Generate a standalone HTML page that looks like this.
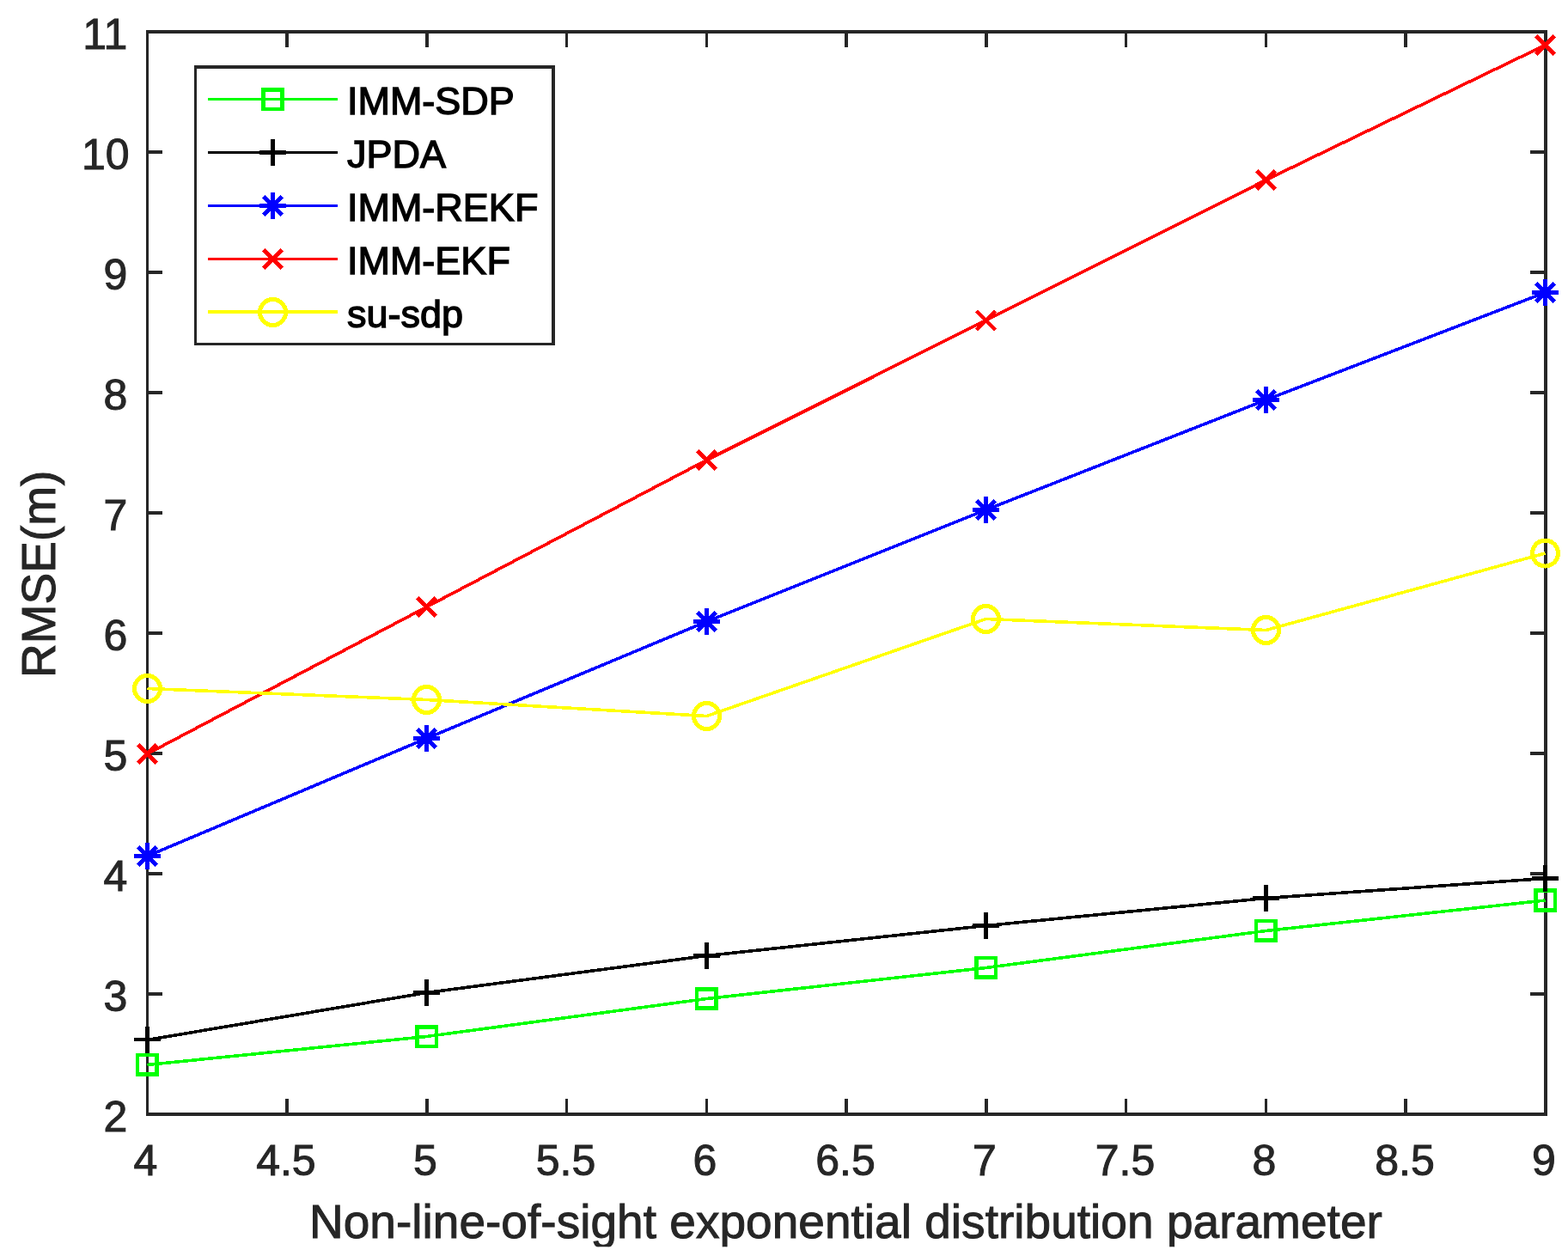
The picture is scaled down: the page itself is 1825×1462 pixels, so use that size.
<!DOCTYPE html>
<html lang="en"><head><meta charset="utf-8"><title>RMSE vs Non-line-of-sight exponential distribution parameter</title>
<style>
html,body{margin:0;padding:0;background:#fff;}
body{width:1825px;height:1462px;overflow:hidden;}
svg{display:block;}
text{font-family:"Liberation Sans",sans-serif;fill:#262626;}
.tk{font-size:50px;stroke:#262626;stroke-width:1px;}
.lb{font-size:55px;stroke:#262626;stroke-width:1px;}
.lg{font-size:45px;fill:#000;stroke:#000;stroke-width:1.4px;}
</style></head><body>
<svg width="1825" height="1462" viewBox="0 0 1825 1462">
<rect width="1825" height="1462" fill="#fff"/>
<g fill="#262626" shape-rendering="crispEdges">
<rect x="170" y="35" width="3" height="1264"/>
<rect x="1797" y="35" width="4" height="1264"/>
<rect x="170" y="35" width="1631" height="4"/>
<rect x="171" y="1295" width="1630" height="4"/>
<rect x="332" y="1279" width="4" height="16"/>
<rect x="332" y="39" width="4" height="16"/>
<rect x="495" y="1279" width="4" height="16"/>
<rect x="495" y="39" width="4" height="16"/>
<rect x="658" y="1279" width="3" height="16"/>
<rect x="658" y="39" width="3" height="16"/>
<rect x="821" y="1279" width="3" height="16"/>
<rect x="821" y="39" width="3" height="16"/>
<rect x="983" y="1279" width="4" height="16"/>
<rect x="983" y="39" width="4" height="16"/>
<rect x="1146" y="1279" width="4" height="16"/>
<rect x="1146" y="39" width="4" height="16"/>
<rect x="1309" y="1279" width="3" height="16"/>
<rect x="1309" y="39" width="3" height="16"/>
<rect x="1472" y="1279" width="3" height="16"/>
<rect x="1472" y="39" width="3" height="16"/>
<rect x="1634" y="1279" width="4" height="16"/>
<rect x="1634" y="39" width="4" height="16"/>
<rect x="173" y="1155" width="16" height="4"/>
<rect x="1781" y="1155" width="16" height="4"/>
<rect x="173" y="1015" width="16" height="4"/>
<rect x="1781" y="1015" width="16" height="4"/>
<rect x="173" y="875" width="16" height="4"/>
<rect x="1781" y="875" width="16" height="4"/>
<rect x="173" y="735" width="16" height="4"/>
<rect x="1781" y="735" width="16" height="4"/>
<rect x="173" y="595" width="16" height="4"/>
<rect x="1781" y="595" width="16" height="4"/>
<rect x="173" y="455" width="16" height="4"/>
<rect x="1781" y="455" width="16" height="4"/>
<rect x="173" y="315" width="16" height="4"/>
<rect x="1781" y="315" width="16" height="4"/>
<rect x="173" y="175" width="16" height="4"/>
<rect x="1781" y="175" width="16" height="4"/>
</g>
<text class="tk" x="169.5" y="1368.3" text-anchor="middle">4</text>
<text class="tk" x="332.9" y="1368.3" text-anchor="middle">4.5</text>
<text class="tk" x="495.0" y="1368.3" text-anchor="middle">5</text>
<text class="tk" x="658.5" y="1368.3" text-anchor="middle">5.5</text>
<text class="tk" x="820.5" y="1368.3" text-anchor="middle">6</text>
<text class="tk" x="984.0" y="1368.3" text-anchor="middle">6.5</text>
<text class="tk" x="1146.0" y="1368.3" text-anchor="middle">7</text>
<text class="tk" x="1309.5" y="1368.3" text-anchor="middle">7.5</text>
<text class="tk" x="1471.5" y="1368.3" text-anchor="middle">8</text>
<text class="tk" x="1635.0" y="1368.3" text-anchor="middle">8.5</text>
<text class="tk" x="1797.0" y="1368.3" text-anchor="middle">9</text>
<text class="tk" x="148.2" y="1316.5" text-anchor="end">2</text>
<text class="tk" x="148.2" y="1176.5" text-anchor="end">3</text>
<text class="tk" x="148.2" y="1036.5" text-anchor="end">4</text>
<text class="tk" x="148.2" y="896.5" text-anchor="end">5</text>
<text class="tk" x="148.2" y="756.5" text-anchor="end">6</text>
<text class="tk" x="148.2" y="616.5" text-anchor="end">7</text>
<text class="tk" x="148.2" y="476.5" text-anchor="end">8</text>
<text class="tk" x="148.2" y="336.5" text-anchor="end">9</text>
<text class="tk" x="150.7" y="196.5" text-anchor="end">10</text>
<text class="tk" x="148.2" y="56.5" text-anchor="end">11</text>
<defs><clipPath id="cx"><rect x="300" y="1380" width="1400" height="71.2"/></clipPath><clipPath id="cy"><rect x="0" y="400" width="75.3" height="500"/></clipPath></defs>
<g clip-path="url(#cx)"><text class="lb" x="984.4" y="1440.6" text-anchor="middle" letter-spacing="0.03">Non-line-of-sight exponential distribution parameter</text></g>
<g clip-path="url(#cy)"><text class="lb" transform="translate(63.6 668.3) rotate(-90)" text-anchor="middle">RMSE(m)</text></g>
<g shape-rendering="crispEdges">
<polyline points="171.5,1239.5 496.5,1206.5 822.5,1162.5 1147.5,1126.5 1473.5,1083.5 1798.5,1048" fill="none" stroke="#00ff00" stroke-width="3.6" stroke-linejoin="round"/>
<path fill-rule="evenodd" fill="#00ff00" d="M158 1226H185V1253H158zM162 1230V1248H180V1230z"/>
<path fill-rule="evenodd" fill="#00ff00" d="M483 1193H510V1220H483zM488 1198V1216H506V1198z"/>
<path fill-rule="evenodd" fill="#00ff00" d="M809 1149H836V1176H809zM813 1154V1171H831V1154z"/>
<path fill-rule="evenodd" fill="#00ff00" d="M1134 1113H1161V1140H1134zM1139 1117V1135H1157V1117z"/>
<path fill-rule="evenodd" fill="#00ff00" d="M1460 1070H1487V1097H1460zM1464 1074V1092H1482V1074z"/>
<path fill-rule="evenodd" fill="#00ff00" d="M1785 1034H1812V1062H1785zM1790 1039V1057H1808V1039z"/>
<polyline points="171.5,1210.5 496.5,1155.5 822.5,1112.5 1147.5,1077.5 1473.5,1045.5 1798.5,1022.5" fill="none" stroke="#000000" stroke-width="3.6" stroke-linejoin="round"/>
<path fill="#000000" d="M156 1208h31v4h-31zM169 1195h5v31h-5z"/>
<path fill="#000000" d="M481 1153h31v5h-31zM494 1140h5v31h-5z"/>
<path fill="#000000" d="M807 1110h31v5h-31zM820 1097h5v31h-5z"/>
<path fill="#000000" d="M1132 1075h31v5h-31zM1145 1062h5v31h-5z"/>
<path fill="#000000" d="M1458 1043h31v5h-31zM1471 1030h5v31h-5z"/>
<path fill="#000000" d="M1783 1020h31v5h-31zM1796 1007h5v31h-5z"/>
<polyline points="171.5,996.5 496.5,859.5 822.5,723.5 1147.5,593.5 1473.5,465.5 1798.5,340.5" fill="none" stroke="#0000ff" stroke-width="3.6" stroke-linejoin="round"/>
<path fill="#0000ff" d="M156 994h31v5h-31zM169 981h5v31h-5z"/><path d="M160.54 985.54L182.46 1007.46M160.54 1007.46L182.46 985.54" fill="none" stroke="#0000ff" stroke-width="4.8"/>
<path fill="#0000ff" d="M481 857h31v5h-31zM494 844h5v31h-5z"/><path d="M485.54 848.54L507.46 870.46M485.54 870.46L507.46 848.54" fill="none" stroke="#0000ff" stroke-width="4.8"/>
<path fill="#0000ff" d="M807 721h31v5h-31zM820 708h5v31h-5z"/><path d="M811.54 712.54L833.46 734.46M811.54 734.46L833.46 712.54" fill="none" stroke="#0000ff" stroke-width="4.8"/>
<path fill="#0000ff" d="M1132 591h31v5h-31zM1145 578h5v31h-5z"/><path d="M1136.54 582.54L1158.46 604.46M1136.54 604.46L1158.46 582.54" fill="none" stroke="#0000ff" stroke-width="4.8"/>
<path fill="#0000ff" d="M1458 463h31v5h-31zM1471 450h5v31h-5z"/><path d="M1462.54 454.54L1484.46 476.46M1462.54 476.46L1484.46 454.54" fill="none" stroke="#0000ff" stroke-width="4.8"/>
<path fill="#0000ff" d="M1783 338h31v5h-31zM1796 325h5v31h-5z"/><path d="M1787.54 329.54L1809.46 351.46M1787.54 351.46L1809.46 329.54" fill="none" stroke="#0000ff" stroke-width="4.8"/>
<polyline points="171.5,877.5 496.5,706.5 822.5,535.5 1147.5,373 1473.5,209.5 1798.5,52.5" fill="none" stroke="#ff0000" stroke-width="3.6" stroke-linejoin="round"/>
<path d="M160.54 866.54L182.46 888.46M160.54 888.46L182.46 866.54" fill="none" stroke="#ff0000" stroke-width="4.8"/>
<path d="M485.54 695.54L507.46 717.46M485.54 717.46L507.46 695.54" fill="none" stroke="#ff0000" stroke-width="4.8"/>
<path d="M811.54 524.54L833.46 546.46M811.54 546.46L833.46 524.54" fill="none" stroke="#ff0000" stroke-width="4.8"/>
<path d="M1136.54 362.04L1158.46 383.96M1136.54 383.96L1158.46 362.04" fill="none" stroke="#ff0000" stroke-width="4.8"/>
<path d="M1462.54 198.54L1484.46 220.46M1462.54 220.46L1484.46 198.54" fill="none" stroke="#ff0000" stroke-width="4.8"/>
<path d="M1787.54 41.54L1809.46 63.46M1787.54 63.46L1809.46 41.54" fill="none" stroke="#ff0000" stroke-width="4.8"/>
<polyline points="171.5,801.5 496.5,814.5 822.5,833.5 1147.5,720.5 1473.5,733.5 1798.5,644" fill="none" stroke="#ffff00" stroke-width="3.6" stroke-linejoin="round"/>
<circle cx="171.5" cy="801.5" r="15" fill="none" stroke="#ffff00" stroke-width="5"/>
<circle cx="496.5" cy="814.5" r="15" fill="none" stroke="#ffff00" stroke-width="5"/>
<circle cx="822.5" cy="833.5" r="15" fill="none" stroke="#ffff00" stroke-width="5"/>
<circle cx="1147.5" cy="720.5" r="15" fill="none" stroke="#ffff00" stroke-width="5"/>
<circle cx="1473.5" cy="733.5" r="15" fill="none" stroke="#ffff00" stroke-width="5"/>
<circle cx="1798.5" cy="644" r="15" fill="none" stroke="#ffff00" stroke-width="5"/>
</g>
<g shape-rendering="crispEdges">
<rect x="226" y="76" width="420" height="326" fill="#262626"/>
<rect x="229" y="80" width="413" height="319" fill="#fff"/>
<rect x="242" y="114" width="151" height="3" fill="#00ff00"/>
<path fill-rule="evenodd" fill="#00ff00" d="M304 102H331V129H304zM309 107V125H326V107z"/>
<rect x="242" y="176" width="151" height="3" fill="#000000"/>
<path fill="#000000" d="M302 175h31v5h-31zM315 162h5v31h-5z"/>
<rect x="242" y="238" width="151" height="3" fill="#0000ff"/>
<path fill="#0000ff" d="M302 237h31v5h-31zM315 224h5v31h-5z"/><path d="M306.54 228.54L328.46 250.46M306.54 250.46L328.46 228.54" fill="none" stroke="#0000ff" stroke-width="4.8"/>
<rect x="242" y="300" width="151" height="3" fill="#ff0000"/>
<path d="M306.54 290.54L328.46 312.46M306.54 312.46L328.46 290.54" fill="none" stroke="#ff0000" stroke-width="4.8"/>
<rect x="242" y="361" width="151" height="4" fill="#ffff00"/>
<circle cx="317.5" cy="363.5" r="15" fill="none" stroke="#ffff00" stroke-width="5"/>
</g>
<text class="lg" x="403.9" y="132.5">IMM-SDP</text>
<text class="lg" x="403.9" y="194.5">JPDA</text>
<text class="lg" x="403.9" y="256.5">IMM-REKF</text>
<text class="lg" x="403.9" y="318.5">IMM-EKF</text>
<text class="lg" x="403.9" y="380.5">su-sdp</text>
</svg></body></html>
